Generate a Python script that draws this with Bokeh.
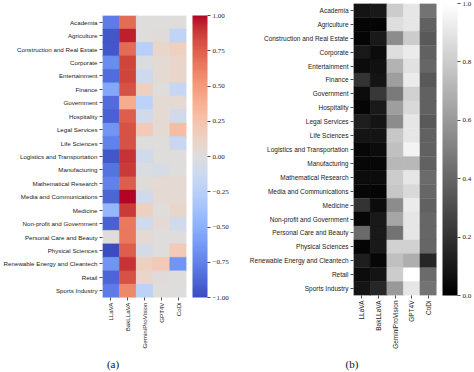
import math
from bokeh.plotting import figure
from bokeh.models import (ColumnDataSource, LinearColorMapper, ColorBar, FixedTicker,
                          CustomJSTickFormatter, Div, FactorRange)
from bokeh.layouts import row, column
from bokeh.embed import file_html
from bokeh.resources import INLINE

domains = ["Academia", "Agriculture", "Construction and Real Estate", "Corporate",
           "Entertainment", "Finance", "Government", "Hospitality", "Legal Services",
           "Life Sciences", "Logistics and Transportation", "Manufacturing",
           "Mathematical Research", "Media and Communications", "Medicine",
           "Non-profit and Government", "Personal Care and Beauty", "Physical Sciences",
           "Renewable Energy and Cleantech", "Retail", "Sports Industry"]
models = ["LLaVA", "BakLLaVA", "GeminiProVision", "GPT4V", "CoDi"]

# panel (a): values in -1 .. 1
a_llava = [-0.78, -0.95, -0.95, -0.70, -0.85, -0.55, -0.85, -0.90, -0.65, -0.75, -0.95,
           -0.82, -0.75, -0.88, -0.45, -0.90, 0.0, -1.0, -0.65, -0.88, -0.78]
a_bakllava = [0.70, 0.95, 0.70, 0.85, 0.85, 0.80, 0.40, 0.75, 0.80, 0.80, 0.90,
              0.88, 0.75, 1.0, 0.88, 0.65, 0.65, 0.75, 0.90, 0.80, 0.58]
a_gemini = [0.0, 0.0, -0.25, -0.02, -0.12, 0.15, -0.22, -0.10, 0.20, 0.0, -0.10,
            -0.03, 0.03, -0.10, 0.15, -0.10, 0.05, -0.06, 0.15, 0.10, -0.22]
a_gpt4v = [0.0, 0.02, 0.10, 0.05, 0.05, 0.0, 0.05, 0.05, 0.05, 0.0, 0.0,
           -0.05, 0.05, 0.05, 0.0, 0.05, 0.0, 0.0, 0.20, 0.02, 0.0]
a_codi = [0.0, -0.20, 0.15, 0.10, 0.10, -0.15, 0.05, -0.10, 0.30, -0.15, 0.0,
          0.0, 0.05, 0.05, 0.10, -0.10, 0.0, 0.20, -0.65, 0.0, 0.0]

# panel (b): values in 0 .. 1
b_llava = [0.08, 0.02, 0.02, 0.10, 0.05, 0.20, 0.05, 0.02, 0.12, 0.08, 0.03,
           0.03, 0.05, 0.03, 0.20, 0.03, 0.42, 0.02, 0.12, 0.05, 0.08]
b_bakllava = [0.10, 0.02, 0.10, 0.05, 0.07, 0.08, 0.22, 0.10, 0.08, 0.08, 0.05,
              0.03, 0.05, 0.02, 0.05, 0.10, 0.10, 0.10, 0.03, 0.08, 0.15]
b_gemini = [0.80, 0.87, 0.55, 0.87, 0.70, 0.62, 0.48, 0.62, 0.55, 0.78, 0.75,
            0.72, 0.80, 0.78, 0.55, 0.65, 0.45, 0.82, 0.75, 0.80, 0.60]
b_gpt4v = [0.90, 0.90, 0.80, 0.92, 0.88, 0.92, 0.82, 0.85, 0.90, 0.90, 0.95,
           0.72, 0.90, 0.85, 0.92, 0.90, 0.90, 0.82, 0.68, 1.0, 0.90]
b_codi = [0.45, 0.38, 0.35, 0.38, 0.40, 0.35, 0.38, 0.38, 0.35, 0.38, 0.38,
          0.38, 0.42, 0.40, 0.38, 0.40, 0.40, 0.40, 0.15, 0.42, 0.45]

a_ticks = [-1.0, -0.75, -0.5, -0.25, 0.0, 0.25, 0.5, 0.75, 1.0]
b_ticks = [0.0, 0.2, 0.4, 0.6, 0.8, 1.0]

# coolwarm palette (Moreland diverging anchors)
_cw = [(59, 76, 192), (68, 90, 204), (77, 104, 215), (87, 117, 225), (98, 130, 234),
       (108, 142, 241), (119, 154, 247), (130, 165, 251), (141, 176, 254), (152, 185, 255),
       (163, 194, 255), (174, 201, 253), (184, 208, 249), (194, 213, 244), (204, 217, 238),
       (213, 219, 230), (221, 221, 221), (229, 216, 209), (236, 211, 197), (241, 204, 185),
       (245, 196, 173), (247, 187, 160), (247, 177, 148), (247, 166, 135), (244, 154, 123),
       (241, 141, 111), (236, 127, 99), (229, 112, 88), (222, 96, 77), (213, 80, 66),
       (203, 62, 56), (192, 40, 47), (180, 4, 38)]
coolwarm = []
for i in range(256):
    t = i / 255 * (len(_cw) - 1)
    k = min(int(t), len(_cw) - 2)
    f = t - k
    c = [round(_cw[k][j] + (_cw[k + 1][j] - _cw[k][j]) * f) for j in range(3)]
    coolwarm.append("#%02x%02x%02x" % tuple(c))
grays = ["#%02x%02x%02x" % (i, i, i) for i in range(256)]

SANS = "Liberation Sans"
SERIF = "Liberation Serif"


def make_panel(cols, palette, low, high, ticks, fmt_digits, width, height,
               left, top, right, bottom, fs):
    xs, ys, vs = [], [], []
    for m, col in zip(models, cols):
        for d, v in zip(domains, col):
            xs.append(m)
            ys.append(d)
            vs.append(v)
    src = ColumnDataSource(dict(model=xs, domain=ys, value=vs))
    mapper = LinearColorMapper(palette=palette, low=low, high=high)
    p = figure(x_range=FactorRange(*models, range_padding=0),
               y_range=FactorRange(*reversed(domains), range_padding=0),
               width=width, height=height,
               min_border_left=left, min_border_top=top,
               min_border_right=right, min_border_bottom=bottom,
               output_backend="svg", toolbar_location=None)
    p.rect(x="model", y="domain", width=1, height=1, source=src, dilate=True,
           fill_color={"field": "value", "transform": mapper},
           line_color={"field": "value", "transform": mapper}, line_width=0.3)
    p.outline_line_color = None
    p.grid.grid_line_color = None
    for ax in (p.xaxis[0], p.yaxis[0]):
        ax.axis_line_color = None
        ax.major_tick_line_color = "#222222"
        ax.major_tick_line_width = 0.8
        ax.major_tick_out = 3
        ax.major_tick_in = 0
        ax.major_label_standoff = 2
        ax.major_label_text_font = SANS
        ax.major_label_text_font_size = fs
        ax.major_label_text_color = "#1a1a1a"
    p.xaxis.major_label_orientation = math.pi / 2
    p.background_fill_color = None
    p.border_fill_color = None
    cb = ColorBar(color_mapper=mapper, ticker=FixedTicker(ticks=ticks),
                  formatter=CustomJSTickFormatter(
                      code="return tick.toFixed(%d).replace('-', '\u2212');" % fmt_digits),
                  width=15, padding=0, margin=0, location=(6, 0),
                  border_line_color=None, background_fill_alpha=0, bar_line_color=None,
                  major_tick_line_color="#222222", major_tick_line_width=0.8,
                  major_tick_out=3, major_tick_in=0, minor_tick_line_color=None,
                  label_standoff=2, major_label_text_font=SERIF,
                  major_label_text_font_size="7px", major_label_text_color="#1a1a1a")
    p.add_layout(cb, "right")
    return p


pa = make_panel([a_llava, a_bakllava, a_gemini, a_gpt4v, a_codi], coolwarm, -1, 1,
                a_ticks, 2, 236, 356, 100, 15, 50, 59, "6.2px")
pb = make_panel([b_llava, b_bakllava, b_gemini, b_gpt4v, b_codi], grays, 0, 1,
                b_ticks, 1, 238, 356, 117, 3, 35, 61, "6.5px")


def caption(txt, w):
    return Div(text=txt, width=w, height=16, margin=0,
               styles={"text-align": "center", "font-family": SERIF,
                       "font-size": "11px", "line-height": "16px", "color": "#111"})


layout = row(column(pa, caption("(a)", 226), spacing=0),
             column(pb, caption("(b)", 232), spacing=0), spacing=0)
open("out.html", "w").write(file_html(layout, INLINE))
